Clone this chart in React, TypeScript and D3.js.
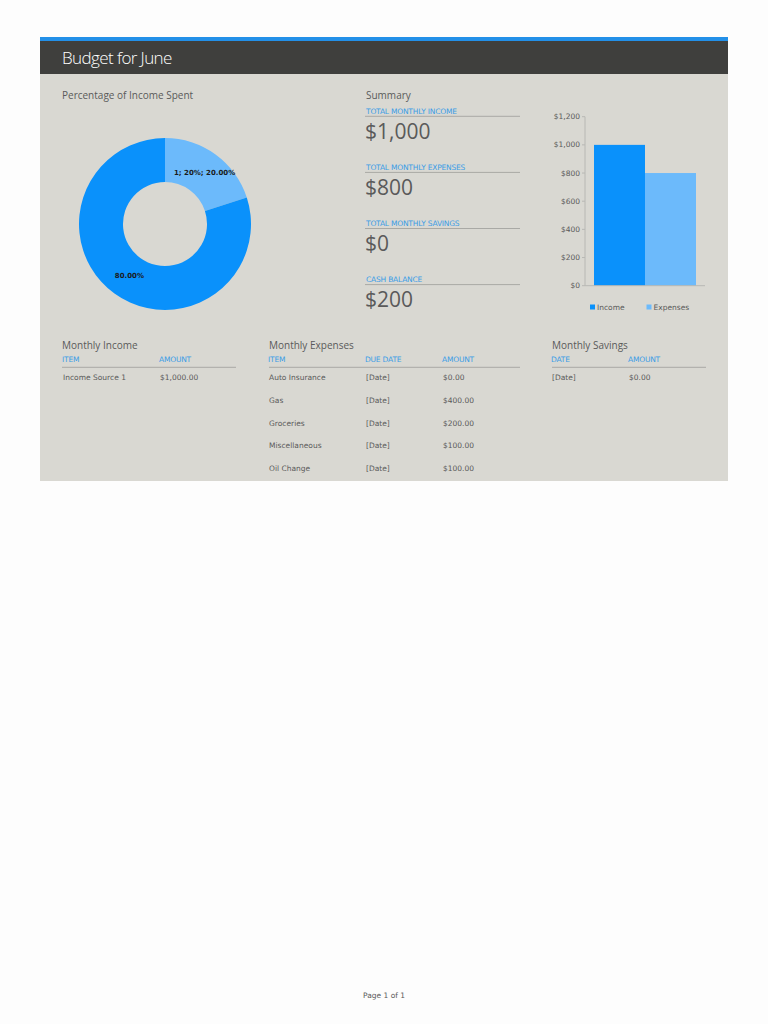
import * as d3 from 'd3'

// summary block
const summaryLabels = ['TOTAL MONTHLY INCOME', 'TOTAL MONTHLY EXPENSES', 'TOTAL MONTHLY SAVINGS', 'CASH BALANCE']
const summaryValues = [1000, 800, 0, 200]

// donut: share of income spent
const donutNames = ['Remaining', 'Spent']
const donutValues = [20, 80]
const donutLabels = ['1; 20%; 20.00%', '80.00%']

// bar chart
const barSeries = ['Income', 'Expenses']
const barValues = [1000, 800]
const barTicks = [0, 200, 400, 600, 800, 1000, 1200]

// tables
const incomeItems = ['Income Source 1']
const incomeAmounts = [1000]
const expenseItems = ['Auto Insurance', 'Gas', 'Groceries', 'Miscellaneous', 'Oil Change']
const expenseDates = ['[Date]', '[Date]', '[Date]', '[Date]', '[Date]']
const expenseAmounts = [0, 400, 200, 100, 100]
const savingsDates = ['[Date]']
const savingsAmounts = [0]

const W = 768
const H = 1024
const PANEL = '#d9d8d2'
const DARK = '#0a91fb'
const LIGHT = '#6cbafb'
const GRAY = '#5a5a5a'
const BLUE = '#3b9de6'
const SANS = '"Open Sans", "DejaVu Sans", sans-serif'
const SMALL = '"DejaVu Sans", sans-serif'

const money0 = d3.format('$,.0f')
const money2 = d3.format('$,.2f')

function Donut() {
  const cx = 165
  const cy = 224
  const pie = d3.pie<number>().sort(null)(donutValues)
  const arc = d3.arc<d3.PieArcDatum<number>>().innerRadius(42).outerRadius(86)
  const color = d3.scaleOrdinal<string, string>().domain(donutNames).range([LIGHT, DARK])
  return (
    <g transform={`translate(${cx},${cy})`}>
      {pie.map((d, i) => (
        <path key={i} d={arc(d) || ''} fill={color(donutNames[i])} />
      ))}
      {pie.map((d, i) => {
        const [x, y] = arc.centroid(d)
        return (
          <text key={'l' + i} x={x + 2} y={y} dy="0.35em" textAnchor="middle"
            fontFamily={SMALL} fontSize={7} fontWeight="bold" fill="#1a1a1a">
            {donutLabels[i]}
          </text>
        )
      })}
    </g>
  )
}

function Bars() {
  const y = d3.scaleLinear().domain([0, 1200]).range([285.7, 116.7])
  const x = d3.scaleBand().domain(barSeries).range([594, 696]).padding(0)
  const color = d3.scaleOrdinal<string, string>().domain(barSeries).range([DARK, LIGHT])
  return (
    <g>
      {barTicks.map((t) => (
        <g key={t}>
          <line x1={582} x2={585} y1={y(t)} y2={y(t)} stroke="#b8b8b4" />
          <text x={580} y={y(t)} dy="0.35em" textAnchor="end" fontFamily={SMALL} fontSize={7.5} fill={GRAY}>
            {money0(t)}
          </text>
        </g>
      ))}
      <line x1={585} x2={585} y1={y(1200)} y2={y(0)} stroke="#b8b8b4" />
      {barSeries.map((s, i) => (
        <rect key={s} x={x(s)} y={y(barValues[i])} width={x.bandwidth()} height={y(0) - y(barValues[i])} fill={color(s)} />
      ))}
      <line x1={585} x2={705} y1={y(0)} y2={y(0)} stroke="#b8b8b4" />
      {barSeries.map((s, i) => {
        const lx = [590, 646.5][i]
        return (
          <g key={'lg' + s}>
            <rect x={lx} y={304.5} width={5} height={5} fill={color(s)} />
            <text x={lx + 7} y={307} dy="0.35em" fontFamily={SMALL} fontSize={7.5} fill={GRAY}>{s}</text>
          </g>
        )
      })}
    </g>
  )
}

function Table({ x0, title, heads, cols, colX, right }: {
  x0: number; title: string; heads: string[]; cols: string[][]; colX: number[]; right: number
}) {
  const rows = d3.range(cols[0].length)
  const ry = d3.scaleLinear().domain([0, 1]).range([377.7, 400.4])
  return (
    <g>
      <text x={x0} y={345} dy="0.35em" fontFamily={SANS} fontSize={10} fill={GRAY}>{title}</text>
      {heads.map((h, i) => (
        <text key={h} x={colX[i]} y={359} dy="0.35em" fontFamily={SMALL} fontSize={7.5} fill={BLUE} letterSpacing={-0.2}>{h}</text>
      ))}
      <line x1={x0} x2={right} y1={367.3} y2={367.3} stroke="#a9a9a5" />
      {rows.map((r) => cols.map((c, j) => (
        <text key={r + '-' + j} x={colX[j] + 1} y={ry(r)} dy="0.35em" fontFamily={SMALL} fontSize={7.5} fill={GRAY}>{c[r]}</text>
      )))}
    </g>
  )
}

export default function App() {
  const sy = d3.scaleLinear().domain([0, 1]).range([111, 167.1])
  return (
    <svg width={W} height={H} style={{ position: 'absolute', left: 0, top: 0, background: '#fdfdfd' }}>
      <rect x={40} y={37} width={688} height={444} fill={PANEL} />
      <rect x={40} y={37} width={688} height={37} fill="#3f3f3d" />
      <rect x={40} y={37} width={688} height={4} fill="#2390e8" />
      <text x={62} y={58} dy="0.35em" fontFamily={SANS} fontWeight={300} fontSize={17} fill="#ffffff" letterSpacing={-0.6}>Budget for June</text>

      <text x={62} y={95} dy="0.35em" fontFamily={SANS} fontSize={10} fill={GRAY}>Percentage of Income Spent</text>
      <Donut />

      <text x={366} y={95} dy="0.35em" fontFamily={SANS} fontSize={10} fill={GRAY}>Summary</text>
      {summaryLabels.map((l, i) => (
        <g key={l}>
          <text x={366} y={sy(i)} dy="0.35em" fontFamily={SMALL} fontSize={7.5} fill={BLUE} letterSpacing={-0.2}>{l}</text>
          <line x1={365} x2={520} y1={sy(i) + 5.3} y2={sy(i) + 5.3} stroke="#a9a9a5" />
          <text x={365} y={sy(i) + 28} fontFamily={SANS} fontSize={21} fill={GRAY}>{money0(summaryValues[i])}</text>
        </g>
      ))}

      <Bars />

      <Table x0={62} title="Monthly Income" heads={['ITEM', 'AMOUNT']}
        cols={[incomeItems, incomeAmounts.map(money2)]} colX={[62, 159]} right={236} />
      <Table x0={269} title="Monthly Expenses" heads={['ITEM', 'DUE DATE', 'AMOUNT']}
        cols={[expenseItems, expenseDates, expenseAmounts.map(money2)]} colX={[268, 365, 442]} right={520} />
      <Table x0={552} title="Monthly Savings" heads={['DATE', 'AMOUNT']}
        cols={[savingsDates, savingsAmounts.map(money2)]} colX={[551, 628]} right={706} />

      <text x={384} y={995} dy="0.35em" textAnchor="middle" fontFamily={SMALL} fontSize={7.5} fill={GRAY}>Page 1 of 1</text>
    </svg>
  )
}
